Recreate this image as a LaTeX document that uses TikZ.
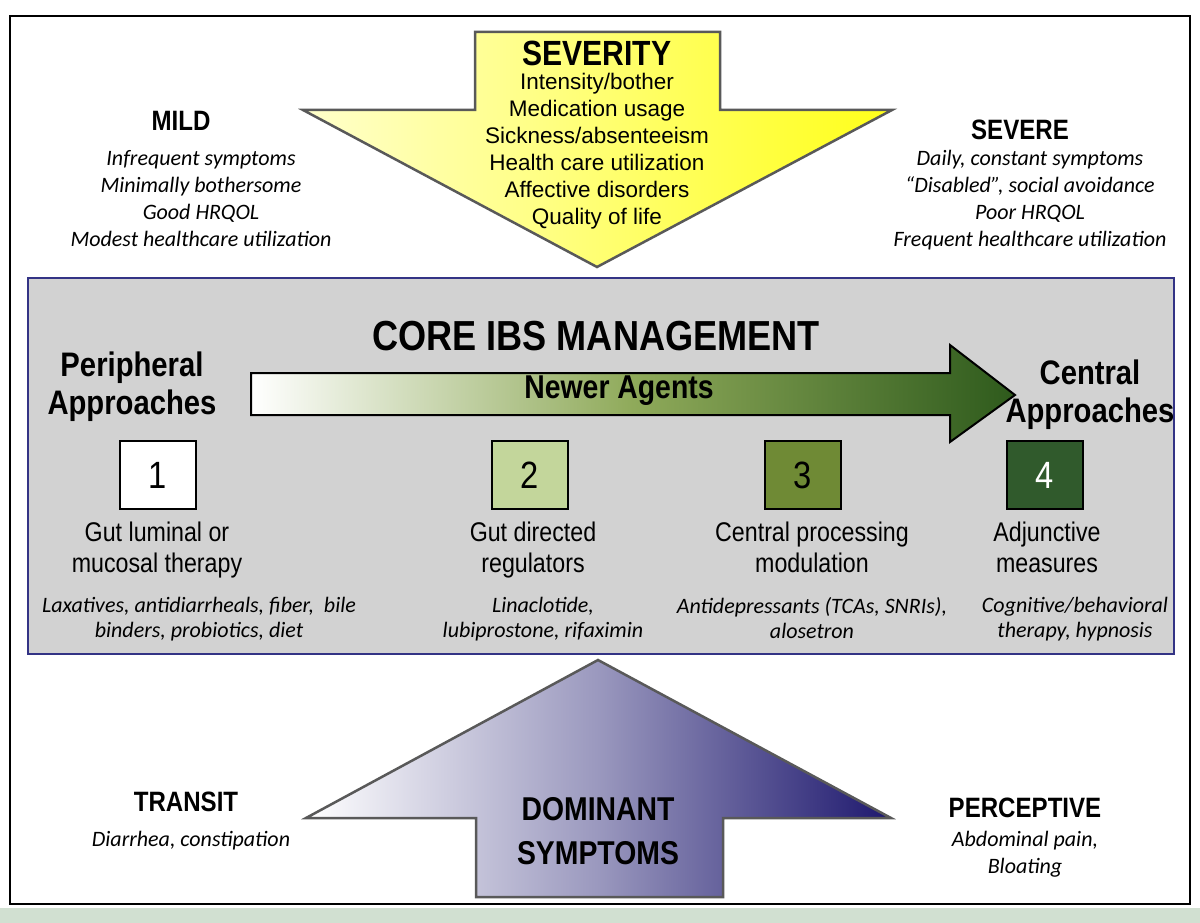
\documentclass[tikz,border=0pt]{standalone}
\usepackage{fontspec}
\setmainfont{Liberation Sans}
\newfontfamily\itf{Carlito}
\newfontfamily\cond{Liberation Sans}[FakeStretch=0.86]
\definecolor{b2c}{HTML}{C3D69B}
\definecolor{b3c}{HTML}{6F8A35}
\definecolor{b4c}{HTML}{305A2C}
\definecolor{gend}{HTML}{2E5A1C}
\definecolor{gmid}{HTML}{8FAA5A}
\definecolor{navy}{HTML}{1E186E}
\definecolor{lav}{HTML}{9A98BE}
\begin{document}
\begin{tikzpicture}[x=1pt,y=-1pt,
  hd/.style={font=\fontsize{28}{30}\selectfont\cond\bfseries,align=center},
  it/.style={font=\fontsize{22}{27}\selectfont\itf\itshape,align=center},
  sit/.style={font=\fontsize{22}{25}\selectfont\itf\itshape,align=center},
  lbl/.style={font=\fontsize{27}{31}\selectfont\cond,align=center},
  num/.style={draw=black,line width=2pt,minimum width=76pt,minimum height=68pt,font=\fontsize{38}{38}\selectfont\cond},
  arr/.style={draw=gray!70!black,line width=2.5pt,line join=miter}]
\useasboundingbox (0,0) rectangle (1200,923);
\fill[white] (0,0) rectangle (1200,923);
\fill[green!20!gray!30] (0,908) rectangle (1200,923);
\draw[line width=2pt] (10,16) rectangle (1190,904);
% gray box
\draw[fill=gray!35,draw=blue!40!black!80,line width=2pt] (28,278) rectangle (1174,654);
% severity arrow
\shade[left color=white!80!yellow,right color=yellow!90!white]
  (475,32) -- (720,32) -- (720,110) -- (892,110) -- (597,267) -- (303,110) -- (475,110) -- cycle;
\draw[arr] (475,32) -- (720,32) -- (720,110) -- (892,110) -- (597,267) -- (303,110) -- (475,110) -- cycle;
\node[font=\fontsize{35}{36}\selectfont\cond\bfseries] (sev) at (597,53) {SEVERITY};
\node[font=\fontsize{22.5}{27}\selectfont,align=center,anchor=north] (sevl) at (597,70)
 {Intensity/bother\\Medication usage\\Sickness/absenteeism\\Health care utilization\\Affective disorders\\Quality of life};
\node[hd] (mild) at (181,121) {MILD};
\node[it,anchor=north] (mildl) at (201,147) {Infrequent symptoms\\Minimally bothersome\\Good HRQOL\\Modest healthcare utilization};
\node[hd] (severe) at (1020,130) {SEVERE};
\node[it,anchor=north] (severel) at (1030,147) {Daily, constant symptoms\\“Disabled”, social avoidance\\Poor HRQOL\\Frequent healthcare utilization};
% core
\node[font=\fontsize{42}{44}\selectfont\cond\bfseries] (core) at (596,336) {CORE IBS MANAGEMENT};
\shade[left color=white,right color=gend,middle color=gmid]
  (251,373) -- (950,373) -- (950,345) -- (1015,395) -- (950,442) -- (950,415) -- (251,415) -- cycle;
\draw[line width=2pt,line join=miter] (251,373) -- (950,373) -- (950,345) -- (1015,395) -- (950,442) -- (950,415) -- (251,415) -- cycle;
\node[font=\fontsize{33}{34}\selectfont\cond\bfseries] (newer) at (619,391) {Newer Agents};
\node[font=\fontsize{34}{38}\selectfont\cond\bfseries,align=center] (per) at (132,387) {Peripheral\\Approaches};
\node[font=\fontsize{34}{38}\selectfont\cond\bfseries,align=center] (cen) at (1090,395) {Central\\Approaches};
\node[num,fill=white] (b1) at (158,475) {1};
\node[num,fill=b2c] (b2) at (530,475) {2};
\node[num,fill=b3c] (b3) at (803,475) {3};
\node[num,fill=b4c,text=white] (b4) at (1045,475) {4};
\node[lbl,anchor=north] (t1) at (157,518) {Gut luminal or\\mucosal therapy};
\node[lbl,anchor=north] (t2) at (533,518) {Gut directed\\regulators};
\node[lbl,anchor=north] (t3) at (812,518) {Central processing\\modulation};
\node[lbl,anchor=north] (t4) at (1047,518) {Adjunctive\\measures};
\node[sit,anchor=north] (s1) at (199,594) {Laxatives, antidiarrheals, fiber,\ \ bile\\binders, probiotics, diet};
\node[sit,anchor=north] (s2) at (543,594) {Linaclotide,\\lubiprostone, rifaximin};
\node[sit,anchor=north] (s3) at (812,594) {Antidepressants (TCAs, SNRIs),\\alosetron};
\node[sit,anchor=north] (s4) at (1075,594) {Cognitive/behavioral\\therapy, hypnosis};
% dominant arrow
\shade[left color=white,right color=navy,middle color=lav]
  (598,660) -- (891,818) -- (723,818) -- (723,897) -- (476,897) -- (476,818) -- (306,818) -- cycle;
\draw[arr] (598,660) -- (891,818) -- (723,818) -- (723,897) -- (476,897) -- (476,818) -- (306,818) -- cycle;
\node[font=\fontsize{33}{44}\selectfont\cond\bfseries,align=center] (dom) at (598,831) {DOMINANT\\SYMPTOMS};
\node[hd] (tr) at (186,802) {TRANSIT};
\node[it] (trl) at (191,841) {Diarrhea, constipation};
\node[hd] (pe) at (1025,808) {PERCEPTIVE};
\node[it] (pel) at (1025,854) {Abdominal pain,\\Bloating};
\end{tikzpicture}
\end{document}
